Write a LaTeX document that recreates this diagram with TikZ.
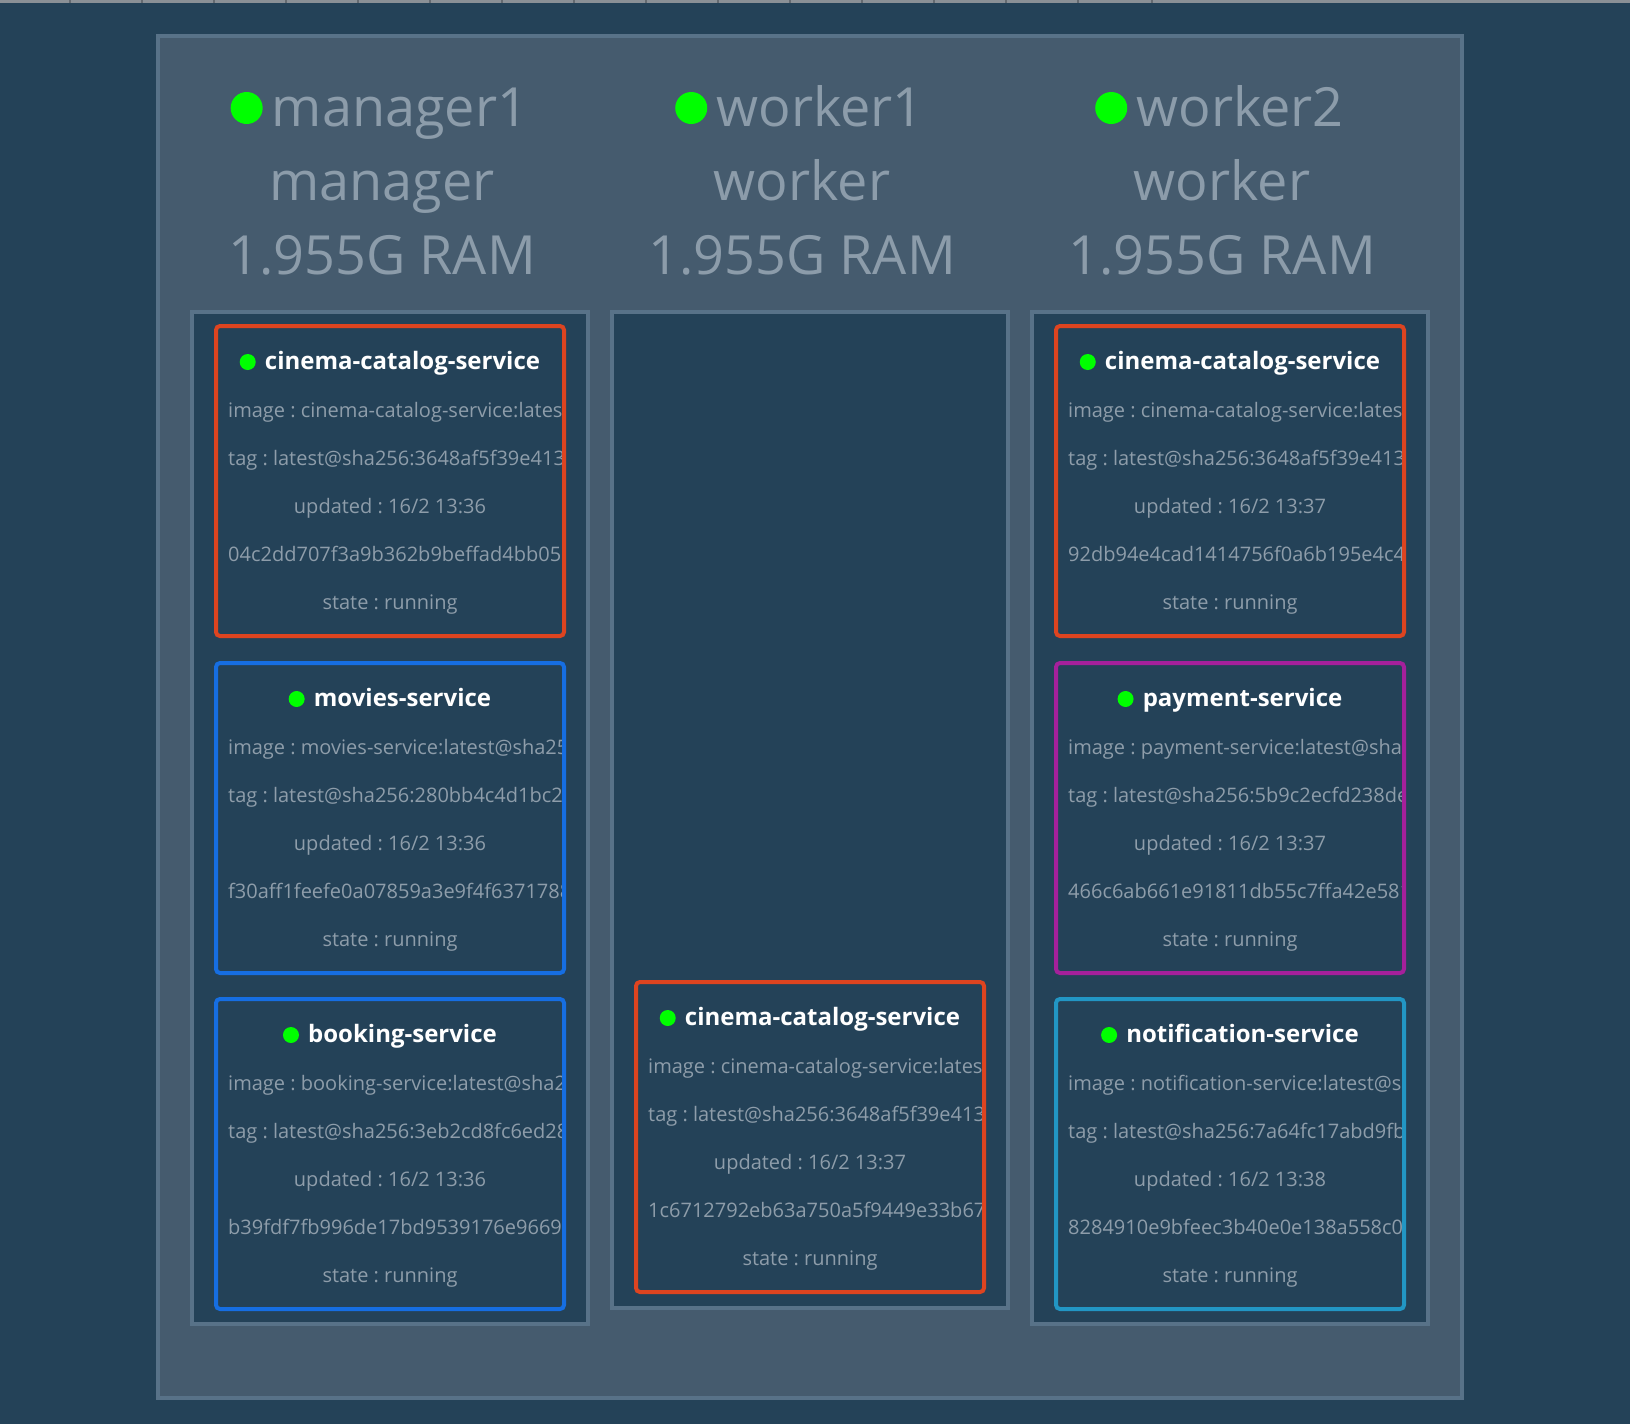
\documentclass[tikz,border=0pt]{standalone}
\usepackage{fontspec}
\setmainfont{Open Sans}
\frenchspacing
\definecolor{bgc}{RGB}{36,66,88}
\definecolor{panelc}{RGB}{69,91,110}
\definecolor{borderc}{RGB}{88,114,136}
\definecolor{txtc}{RGB}{142,157,170}
\definecolor{hdrc}{RGB}{140,156,170}
\definecolor{dotgreen}{RGB}{0,255,0}
\definecolor{redc}{RGB}{222,68,32}
\definecolor{bluec}{RGB}{22,110,226}
\definecolor{purplec}{RGB}{165,32,155}
\definecolor{tealc}{RGB}{34,150,196}
\definecolor{stripc}{RGB}{138,144,150}
\definecolor{tickc}{RGB}{100,106,112}
\newcommand\SvcCard[9]{%
  \begin{scope}
    \clip (#2+4,#3+4) rectangle (#2+348,#3+310);
    \node[bodyl] (#1-img) at (#2+14,#3+93) {#6};
    \node[bodyl] (#1-tag) at (#2+14,#3+141) {#7};
    \node[bodyc] (#1-upd) at (#2+176,#3+189) {updated : #8};
    \node[bodyl] (#1-id) at (#2+14,#3+237) {#9};
    \node[bodyc] (#1-st) at (#2+176,#3+285) {state : running};
  \end{scope}
  \draw[cardbox=#4] (#2+2,#3+2) rectangle (#2+350,#3+312);
  \node[ttl] (#1-t) at (#2+188.5,#3+45) {#5};
  \path (#1-t.west) ++(-17,0) coordinate (#1-dx);
  \coordinate (#1-dy) at (0,#3+38);
  \fill[dotgreen] (#1-dx |- #1-dy) circle[radius=8pt];
}
\newcommand\HostHdr[4]{%
  \node[hdr] (#1-a) at (#2+10,126) {#3};
  \path (#1-a.west) ++(-25,0) coordinate (#1-dx);
  \coordinate (#1-dy) at (0,108);
  \fill[dotgreen] (#1-dx |- #1-dy) circle[radius=16pt];
  \node[hdr] (#1-b) at (#2-8,200) {#4};
  \node[hdr] (#1-c) at (#2-8,274) {1.955G RAM};
}
\begin{document}
\begin{tikzpicture}[x=1pt,y=-1pt,
  panelbox/.style={fill=panelc,draw=borderc,line width=4pt},
  colbox/.style={fill=bgc,draw=borderc,line width=4pt},
  cardbox/.style={draw=#1,line width=4pt,rounded corners=4pt},
  hdr/.style={font=\fontsize{54}{62}\selectfont,text=hdrc,inner sep=0pt,anchor=base},
  ttl/.style={font=\fontsize{24}{28}\selectfont\bfseries,text=white,inner sep=0pt,anchor=base},
  bodyl/.style={font=\fontsize{20}{24}\selectfont,text=txtc,inner sep=0pt,anchor=base west},
  bodyc/.style={font=\fontsize{20}{24}\selectfont,text=txtc,inner sep=0pt,anchor=base}]
\useasboundingbox (0,0) rectangle (1630,1424);
\fill[bgc] (0,0) rectangle (1630,1424);
\fill[stripc] (0,0) rectangle (1630,3);
\foreach \tx in {69,141,213,285,357,429,501,573,645,717,789,861,933,1005,1077,1151}
  \fill[tickc] (\tx,0) rectangle (\tx+1.5,3);
% outer panel
\draw[panelbox] (158,36) rectangle (1462,1398);
% columns
\draw[colbox] (192,312) rectangle (588,1324);
\draw[colbox] (612,312) rectangle (1008,1308);
\draw[colbox] (1032,312) rectangle (1428,1324);
% headers
\HostHdr{h1}{390}{manager1}{manager}
\HostHdr{h2}{810}{worker1}{worker}
\HostHdr{h3}{1230}{worker2}{worker}
% cards column 1
\SvcCard{c11}{214}{324}{redc}{cinema-catalog-service}{image : cinema-catalog-service:latest}{tag : latest@sha256:3648af5f39e413}{16/2 13:36}{04c2dd707f3a9b362b9beffad4bb05c}
\SvcCard{c12}{214}{661}{bluec}{movies-service}{image : movies-service:latest@sha256:}{tag : latest@sha256:280bb4c4d1bc2}{16/2 13:36}{f30aff1feefe0a07859a3e9f4f6371788}
\SvcCard{c13}{214}{997}{bluec}{booking-service}{image : booking-service:latest@sha256:}{tag : latest@sha256:3eb2cd8fc6ed28}{16/2 13:36}{b39fdf7fb996de17bd9539176e9669}
% card column 2
\SvcCard{c21}{634}{980}{redc}{cinema-catalog-service}{image : cinema-catalog-service:latest}{tag : latest@sha256:3648af5f39e413}{16/2 13:37}{1c6712792eb63a750a5f9449e33b67}
% cards column 3
\SvcCard{c31}{1054}{324}{redc}{cinema-catalog-service}{image : cinema-catalog-service:latest}{tag : latest@sha256:3648af5f39e413}{16/2 13:37}{92db94e4cad1414756f0a6b195e4c4}
\SvcCard{c32}{1054}{661}{purplec}{payment-service}{image : payment-service:latest@sha256:}{tag : latest@sha256:5b9c2ecfd238de}{16/2 13:37}{466c6ab661e91811db55c7ffa42e581}
\SvcCard{c33}{1054}{997}{tealc}{notification-service}{image : notification-service:latest@sha256:}{tag : latest@sha256:7a64fc17abd9fb}{16/2 13:38}{8284910e9bfeec3b40e0e138a558c0}
\end{tikzpicture}
\end{document}
